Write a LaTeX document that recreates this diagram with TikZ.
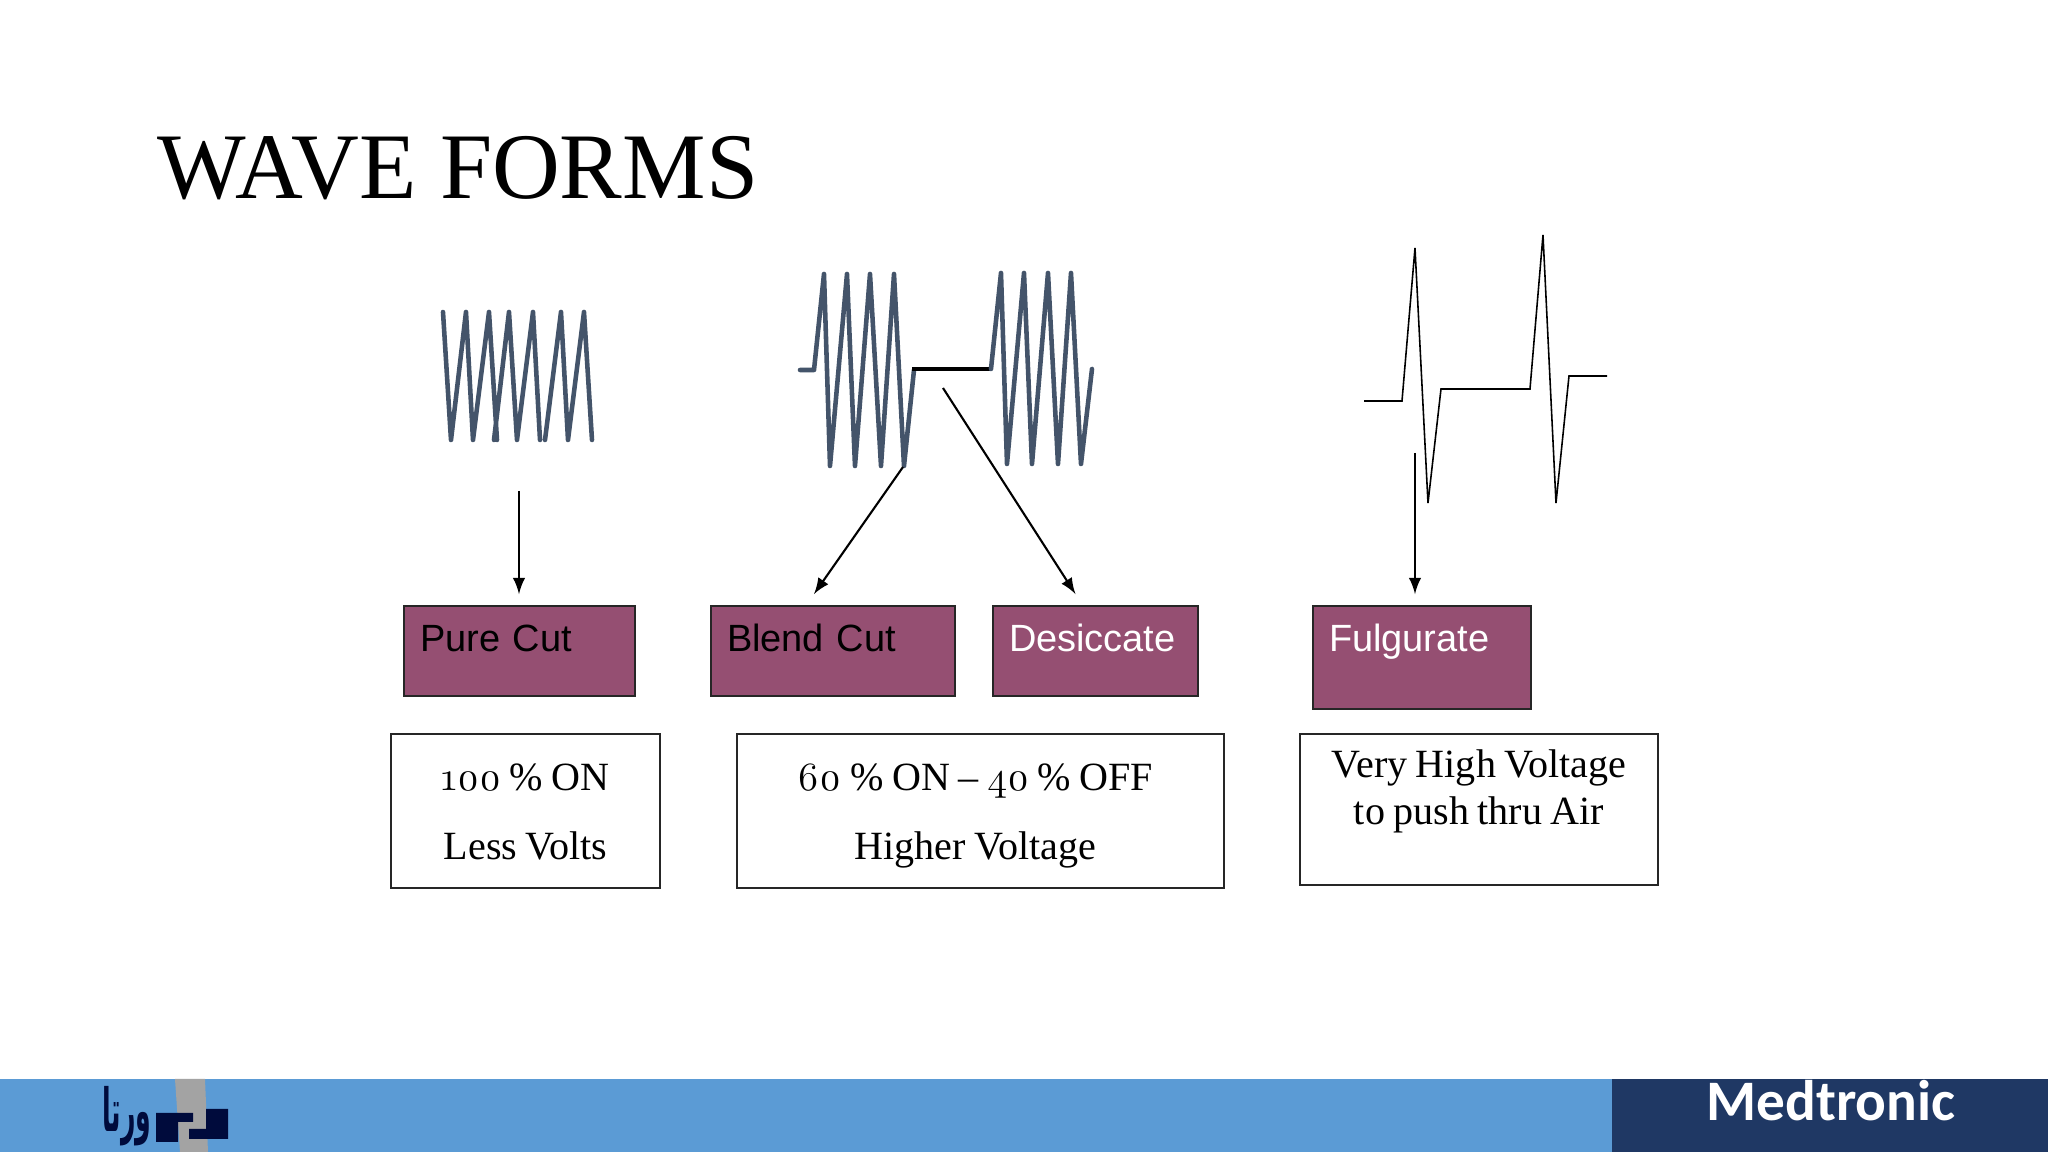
\documentclass[tikz,border=0pt]{standalone}
\usepackage{fontspec}
\newfontfamily\titlefont{Liberation Serif}
\newfontfamily\boxfont{Liberation Sans}
\newfontfamily\onumfont[Numbers=OldStyle]{Latin Modern Roman}
\newfontfamily\brandfont{Carlito}
\newfontfamily\arabicfont[Script=Arabic]{DejaVu Sans}
\TeXXeTstate=1
\newcommand{\tightwords}{\spaceskip=0.21em\relax}
\definecolor{plum}{HTML}{954F72}
\definecolor{slate}{HTML}{44546A}
\definecolor{skyband}{HTML}{5B9BD5}
\definecolor{navyband}{HTML}{1F3864}
\definecolor{logonavy}{HTML}{000B3C}
\definecolor{logogray}{HTML}{A3A3A3}
\begin{document}
\begin{tikzpicture}[
    title/.style={anchor=base west, inner sep=0pt, font=\titlefont\fontsize{26.7}{30}\selectfont},
    mode/.style={rectangle, draw=black!85, line width=0.5pt, fill=plum, inner xsep=0.16cm, inner ysep=0pt, align=left, text height=0.46cm, text depth=0.44cm, font=\boxfont\fontsize{10.8}{13}\selectfont},
    note/.style={rectangle, draw=black!85, line width=0.5pt, inner xsep=0pt, inner ysep=0pt, align=center, font=\titlefont\fontsize{11.4}{19.6}\selectfont},
    wave/.style={draw=slate, line width=1.3pt, line join=round, line cap=round},
    link/.style={-latex, line width=0.6pt}
]
\useasboundingbox (0,0) rectangle (20.48,11.52);

% Bande du bas
\fill[skyband] (0,0) rectangle (16.12,0.73);
\fill[navyband] (16.12,0) rectangle (20.48,0.73);
\fill[logogray] (1.75,0.73) -- (2.05,0.73) -- (2.08,0) -- (1.80,0) -- cycle;
\fill[logonavy] (1.56,0.39) -- (1.93,0.39) -- (1.93,0.30) -- (1.78,0.30) -- (1.78,0.10) -- (1.56,0.10) -- cycle;
\fill[logonavy] (2.06,0.43) -- (2.28,0.43) -- (2.28,0.13) -- (1.89,0.13) -- (1.89,0.23) -- (2.06,0.23) -- cycle;
\node[text=logonavy, inner sep=0pt, font=\fontsize{13}{15}\selectfont] (logo) at (1.27,0.36) {\scalebox{0.55}[1.3]{\arabicfont\bfseries\beginR ورتا\endR}};
\node[anchor=base west, inner sep=0pt, text=white, font=\brandfont\bfseries\fontsize{16.3}{18}\selectfont] (brand) at (17.06,0.313) {Medtronic};

% Titre
\node[title] (heading) at (1.57,9.53) {WAVE FORMS};

% Formes d'onde
\draw[wave] (4.43,8.40) -- (4.51,7.12) -- (4.66,8.40) -- (4.73,7.12) -- (4.89,8.40) -- (4.97,7.12)
    (4.94,7.12) -- (5.09,8.40) -- (5.17,7.12) -- (5.33,8.40) -- (5.40,7.12)
    (5.45,7.12) -- (5.61,8.40) -- (5.68,7.12) -- (5.84,8.40) -- (5.92,7.12);
\draw[wave] (8.00,7.82) -- (8.14,7.82) -- (8.24,8.78) -- (8.30,6.86) -- (8.47,8.78) -- (8.55,6.86)
    -- (8.70,8.78) -- (8.81,6.86) -- (8.94,8.78) -- (9.04,6.86) -- (9.14,7.82);
\draw[black, line width=1.3pt] (9.12,7.83) -- (9.91,7.83);
\draw[wave] (9.91,7.83) -- (10.01,8.79) -- (10.07,6.88) -- (10.24,8.79) -- (10.32,6.88) -- (10.48,8.79)
    -- (10.58,6.88) -- (10.71,8.79) -- (10.81,6.88) -- (10.92,7.83);
\draw[black, line width=0.45pt] (13.64,7.51) -- (14.02,7.51) -- (14.15,9.04) -- (14.28,6.49) -- (14.41,7.63)
    -- (15.30,7.63) -- (15.43,9.17) -- (15.56,6.49) -- (15.69,7.76) -- (16.07,7.76);

% Modes
\node[mode, text width=1.99cm] (pure) at (5.195,5.01) {Pure Cut};
\node[mode, text width=2.12cm] (blend) at (8.33,5.01) {Blend Cut};
\node[mode, text width=1.73cm, text=white] (desiccate) at (10.955,5.01) {Desiccate};
\node[mode, text width=1.86cm, text=white, text depth=0.57cm] (fulgurate) at (14.22,4.945) {Fulgurate};

% Notes
\node[note, text width=2.69cm, text height=0.57cm, text depth=0.97cm] (pureNote) at (5.255,3.41) {\tightwords{\onumfont 100} \% ON\\Less Volts};
\node[note, text width=4.87cm, text height=0.57cm, text depth=0.97cm] (blendNote) at (9.805,3.41) {\tightwords\hspace*{-0.1cm}{\onumfont 60} \% ON – {\onumfont 40} \% OFF\\\hspace*{-0.1cm}Higher Voltage};
\node[note, text width=3.58cm, text height=0.44cm, text depth=1.07cm, font=\titlefont\fontsize{11.4}{13.1}\selectfont] (fulgurateNote) at (14.79,3.425) {\tightwords Very High Voltage\\to push thru Air};

% Connexions
\coordinate (pureFrom) at (5.19,6.61);
\coordinate (blendFrom) at (9.03,6.85);
\coordinate (desiccateFrom) at (9.43,7.64);
\coordinate (fulgurateFrom) at (14.15,6.99);
\draw[link] (pureFrom) -- ([yshift=0.11cm]pure.north -| pureFrom);
\draw[link] (blendFrom) -- ([shift={(-0.19,0.11)}]blend.north);
\draw[link] (desiccateFrom) -- ([shift={(-0.20,0.11)}]desiccate.north);
\draw[link] (fulgurateFrom) -- ([yshift=0.11cm]fulgurate.north -| fulgurateFrom);

\end{tikzpicture}
\end{document}
